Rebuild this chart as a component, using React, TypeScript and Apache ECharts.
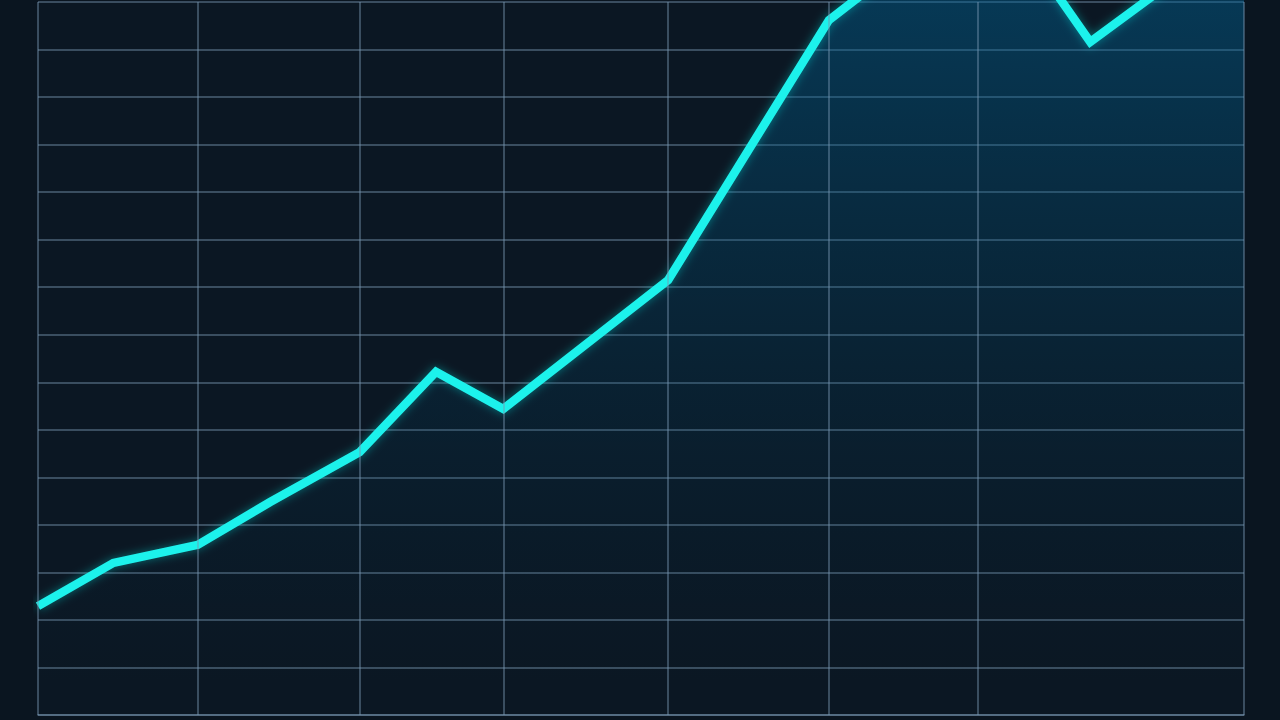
import React, { useEffect, useRef } from "react";
import * as echarts from "echarts";

// x in arbitrary time units (0..120), y in grid units (0..15)
const xValues = [0, 7.5, 15.9, 23.1, 32.0, 39.6, 46.3, 62.7, 78.7, 85.8, 99.7, 104.7, 120];
const yValues = [2.29, 3.2, 3.58, 4.48, 5.53, 7.22, 6.44, 9.15, 14.62, 15.78, 15.67, 14.16, 16.54];
const verticalGrid = [0, 15.9, 32.0, 46.3, 62.7, 78.7, 93.5, 120];

const X_MAX = 120;
const Y_MAX = 15;

export default function App() {
  const ref = useRef<HTMLDivElement>(null);
  useEffect(() => {
    if (!ref.current) return;
    const chart = echarts.init(ref.current, undefined, { renderer: "svg" });
    const gridColor = "rgba(120,150,178,0.58)";
    chart.setOption({
      animation: false,
      backgroundColor: "#0a1520",
      grid: {
        left: 38,
        right: 36,
        top: 2,
        bottom: 5,
        show: true,
        backgroundColor: "#0b1723",
        borderWidth: 0,
      },
      xAxis: {
        type: "value",
        min: 0,
        max: X_MAX,
        axisLine: { show: true, lineStyle: { color: gridColor, width: 1.5 } },
        axisTick: { show: false },
        axisLabel: { show: false },
        splitLine: { show: false },
      },
      yAxis: {
        type: "value",
        min: 0,
        max: Y_MAX,
        interval: 1,
        axisLine: { show: false },
        axisTick: { show: false },
        axisLabel: { show: false },
        splitLine: { show: true, lineStyle: { color: gridColor, width: 1.5 } },
      },
      series: [
        {
          type: "line",
          data: xValues.map((x, i) => [x, yValues[i]]),
          symbol: "none",
          clip: false,
          lineStyle: {
            color: "#1ff2ec",
            width: 8.5,
            join: "miter",
            shadowColor: "rgba(0,240,235,0.4)",
            shadowBlur: 10,
          },
          areaStyle: {
            color: new echarts.graphic.LinearGradient(
              0,
              0,
              0,
              720,
              [
                { offset: 0, color: "rgba(0,100,150,0.62)" },
                { offset: 0.5, color: "rgba(0,85,125,0.26)" },
                { offset: 0.95, color: "rgba(0,60,90,0)" },
              ],
              true
            ),
          },
          markLine: {
            silent: true,
            symbol: "none",
            label: { show: false },
            lineStyle: { color: gridColor, width: 1.5, type: "solid" },
            data: verticalGrid.map((x) => ({ xAxis: x })),
          },
          z: 3,
        },
      ],
    });
    return () => chart.dispose();
  }, []);
  return (
    <div
      ref={ref}
      style={{ position: "fixed", left: 0, top: 0, width: 1280, height: 720 }}
    />
  );
}
